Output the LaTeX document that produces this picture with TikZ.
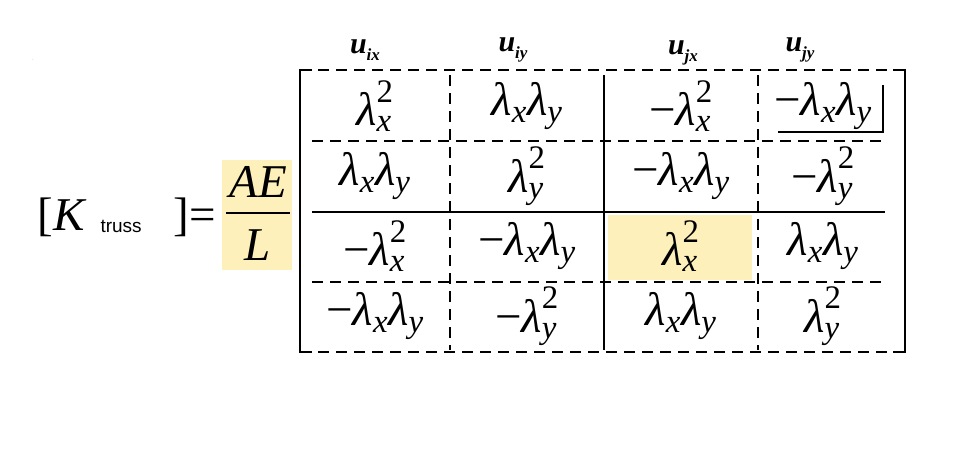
\documentclass[tikz,border=0pt]{standalone}
\usepackage{amsmath}
\usepackage{fontspec}
\setmainfont{Liberation Serif}
\setsansfont{Liberation Sans}
\newcommand{\Lm}{\text{\itshape λ}}
\newcommand{\Lx}{\Lm_{\text{\itshape x}}}
\newcommand{\Ly}{\Lm_{\text{\itshape y}}}
\newcommand{\Lxx}{\Lm_{\text{\itshape x}}^{\text{2}}}
\newcommand{\Lyy}{\Lm_{\text{\itshape y}}^{\text{2}}}
\newcommand{\mn}{\text{−}}
\newcommand{\hsub}[2]{#1\raisebox{-0.25em}{\fontsize{17}{18}\selectfont #2}}
\begin{document}
\begin{tikzpicture}[x=1pt,y=-1pt,
  cell/.style={font=\fontsize{47}{49}\selectfont},
  hdr/.style={font=\fontsize{30}{32}\selectfont\bfseries\itshape},
  dl/.style={line width=1.8pt,dash pattern=on 11pt off 7pt},
  sl/.style={line width=1.8pt},
  hl/.style={fill=yellow!60!orange!25}]
\useasboundingbox (0,0) rectangle (966,474);
\fill[hl] (222,160) rectangle (292,270);
\fill[hl] (608,215) rectangle (752,280);
% brackets
\draw[sl] (312,70) -- (300,70) -- (300,352) -- (312,352);
\draw[sl] (893,70) -- (905,70) -- (905,352) -- (893,352);
% grid
\draw[dl] (318,70) -- (888,70);
\draw[dl] (318,352) -- (888,352);
\draw[dl] (312,141) -- (885,141);
\draw[dl] (312,282) -- (885,282);
\draw[sl] (312,212) -- (885,212);
\draw[dl] (450,75) -- (450,350);
\draw[sl] (604,75) -- (604,350);
\draw[dl] (758,75) -- (758,350);
\draw[line width=1.2pt] (778,132) -- (884,132);
\draw[line width=1.2pt] (883,85) -- (883,132);
% headers
\node[hdr] (h1) at (365,50) {\hsub{u}{ix}};
\node[hdr] (h2) at (513,50) {\hsub{u}{iy}};
\node[hdr] (h3) at (683,53) {\hsub{u}{jx}};
\node[hdr] (h4) at (800,50) {\hsub{u}{jy}};
% cells
\node[cell] (c11) at (375,106) {$\Lxx$};
\node[cell] (c12) at (527,106) {$\Lx\Ly$};
\node[cell] (c13) at (681,106) {$\mn\Lxx$};
\node[cell] (c14) at (823,106) {$\mn\Lx\Ly$};
\node[cell] (c21) at (375,176) {$\Lx\Ly$};
\node[cell] (c22) at (527,176) {$\Lyy$};
\node[cell] (c23) at (681,176) {$\mn\Lx\Ly$};
\node[cell] (c24) at (823,176) {$\mn\Lyy$};
\node[cell] (c31) at (375,246) {$\mn\Lxx$};
\node[cell] (c32) at (527,246) {$\mn\Lx\Ly$};
\node[cell] (c33) at (681,246) {$\Lxx$};
\node[cell] (c34) at (823,246) {$\Lx\Ly$};
\node[cell] (c41) at (375,316) {$\mn\Lx\Ly$};
\node[cell] (c42) at (527,316) {$\mn\Lyy$};
\node[cell] (c43) at (681,316) {$\Lx\Ly$};
\node[cell] (c44) at (823,316) {$\Lyy$};
% left side
\node[cell,anchor=base west] (lb) at (34,230) {[\textit{K}};
\node[font=\sffamily\fontsize{19}{20}\selectfont,anchor=base west] (tr) at (97,232) {truss};
\node[cell,anchor=base west] (rb) at (170,230) {]=};
\node[cell] (ae) at (258,182) {\textit{AE}};
\node[cell] (ll) at (258,245) {\textit{L}};
\draw[sl] (226,213) -- (290,213);
\node[font=\tiny,text=gray] (dot) at (33,60) {.};
\end{tikzpicture}
\end{document}
